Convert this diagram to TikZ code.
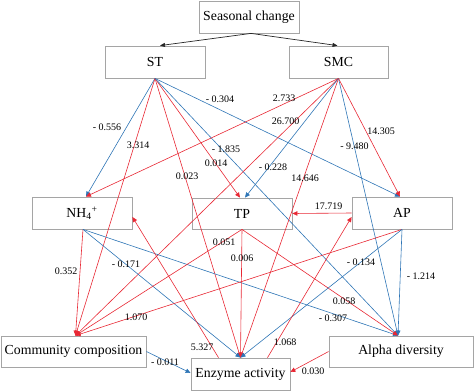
\documentclass[tikz,border=0pt]{standalone}
\usepackage{fontspec}
\setmainfont{Liberation Serif}
\usetikzlibrary{arrows.meta}
\definecolor{redc}{RGB}{232,40,52}
\definecolor{bluec}{RGB}{46,117,182}
\definecolor{boxgray}{RGB}{165,165,165}
\tikzset{
  boxnode/.style={draw=boxgray, fill=white, line width=0.8pt, inner sep=0pt,
    font=\fontsize{13.8}{16}\selectfont},
  lab/.style={inner sep=0pt, font=\fontsize{10}{12}\selectfont},
  rl/.style={draw=redc, line width=0.6pt, -{Triangle[length=5pt,width=4.5pt]}},
  bl/.style={draw=bluec, line width=0.6pt, -{Triangle[length=5pt,width=4.5pt]}},
  kl/.style={draw=black!85, line width=0.7pt, -{Triangle[length=5pt,width=4pt]}}
}
\begin{document}
\begin{tikzpicture}[x=1pt,y=-1pt]
\useasboundingbox (0,0) rectangle (474,391);
% boxes
\node[boxnode, minimum width=100pt, minimum height=32pt] (sc) at (249,17) {Seasonal change};
\node[boxnode, minimum width=100pt, minimum height=32pt] (st) at (155,62) {ST};
\node[boxnode, minimum width=99pt, minimum height=32pt] (smc) at (338.5,62) {SMC};
\node[boxnode, minimum width=100pt, minimum height=32pt] (nh) at (82,213) {NH\textsubscript{4}\textsuperscript{+}};
\node[boxnode, minimum width=100pt, minimum height=31pt] (tp) at (242,213.5) {TP};
\node[boxnode, minimum width=100pt, minimum height=32pt] (ap) at (402,213) {AP};
\node[boxnode, minimum width=145pt, minimum height=31pt] (cc) at (73.5,351.5) {Community composition};
\node[boxnode, minimum width=99pt, minimum height=32pt] (ea) at (240.5,374) {Enzyme activity};
\node[boxnode, minimum width=144pt, minimum height=31pt] (al) at (401,351.5) {Alpha diversity};
% endpoints
\coordinate (nhT) at ([xshift=4pt]nh.north);
\coordinate (ccT) at ([xshift=2pt]cc.north);
\coordinate (eaT) at (ea.north);
\coordinate (alT) at ([xshift=-3pt]al.north);
\coordinate (apT) at ([xshift=-2pt]ap.north);
% seasonal change
\draw[kl] ([xshift=2pt]sc.south) -- ([xshift=5pt]st.north);
\draw[kl] ([xshift=2pt]sc.south) -- ([xshift=-1pt]smc.north);
% from ST
\draw[bl] (st.south) -- (nhT);
\draw[rl] (st.south) -- (ccT);
\draw[rl] (st.south) -- (eaT);
\draw[rl] (st.south) -- ([xshift=-2pt]tp.north);
\draw[bl] (st.south) -- (alT);
\draw[bl] (st.south) -- (apT);
% from SMC
\draw[rl] (smc.south) -- (nhT);
\draw[rl] (smc.south) -- (ccT);
\draw[bl] (smc.south) -- ([xshift=3pt]tp.north);
\draw[rl] (smc.south) -- (eaT);
\draw[bl] (smc.south) -- (alT);
\draw[rl] (smc.south) -- (apT);
% from NH4
\draw[rl] ([xshift=1pt]nh.south) -- (ccT);
\draw[bl] ([xshift=1pt]nh.south) -- (eaT);
\draw[bl] ([xshift=1pt]nh.south) -- (alT);
% from TP
\draw[rl] (tp.south) -- (ccT);
\draw[rl] (tp.south) -- (eaT);
\draw[rl] (tp.south) -- (alT);
% from AP
\draw[rl] (ap.south) -- (ccT);
\draw[bl] (ap.south) -- (eaT);
\draw[bl] (ap.south) -- (alT);
% others
\draw[rl] ([xshift=-22pt]ea.north) -- ([yshift=-4pt]nh.east);
\draw[rl] ([xshift=27pt]ea.north) -- ([yshift=-4pt]ap.west);
\draw[rl] (ap.west) -- (tp.east);
\draw[bl] (cc.east) -- ([yshift=1pt]ea.west);
\draw[rl] (al.west) -- ([yshift=2pt]ea.east);
% labels
\node[lab] (l1) at (107,127) {- 0.556};
\node[lab] (l2) at (138,145) {3.314};
\node[lab] (l3) at (220,99) {- 0.304};
\node[lab] (l4) at (284,98) {2.733};
\node[lab] (l5) at (285.5,121) {26.700};
\node[lab] (l6) at (381,131) {14.305};
\node[lab] (l7) at (354.5,146) {- 9.480};
\node[lab] (l8) at (226,149) {- 1.835};
\node[lab] (l9) at (216,163) {0.014};
\node[lab] (l10) at (187,176) {0.023};
\node[lab] (l11) at (273,167) {- 0.228};
\node[lab] (l12) at (305,178) {14.646};
\node[lab] (l13) at (328.5,206) {17.719};
\node[lab] (l14) at (224,242) {0.051};
\node[lab] (l15) at (242,258) {0.006};
\node[lab] (l16) at (126,264) {- 0.171};
\node[lab] (l17) at (66,271) {0.352};
\node[lab] (l18) at (136,317) {1.070};
\node[lab] (l19) at (361,262) {- 0.134};
\node[lab] (l20) at (421,276) {- 1.214};
\node[lab] (l21) at (344,301) {0.058};
\node[lab] (l22) at (333,318) {- 0.307};
\node[lab] (l23) at (202,347.5) {5.327};
\node[lab] (l24) at (285,342) {1.068};
\node[lab] (l25) at (165,362) {- 0.011};
\node[lab] (l26) at (313,371) {0.030};
\end{tikzpicture}
\end{document}
